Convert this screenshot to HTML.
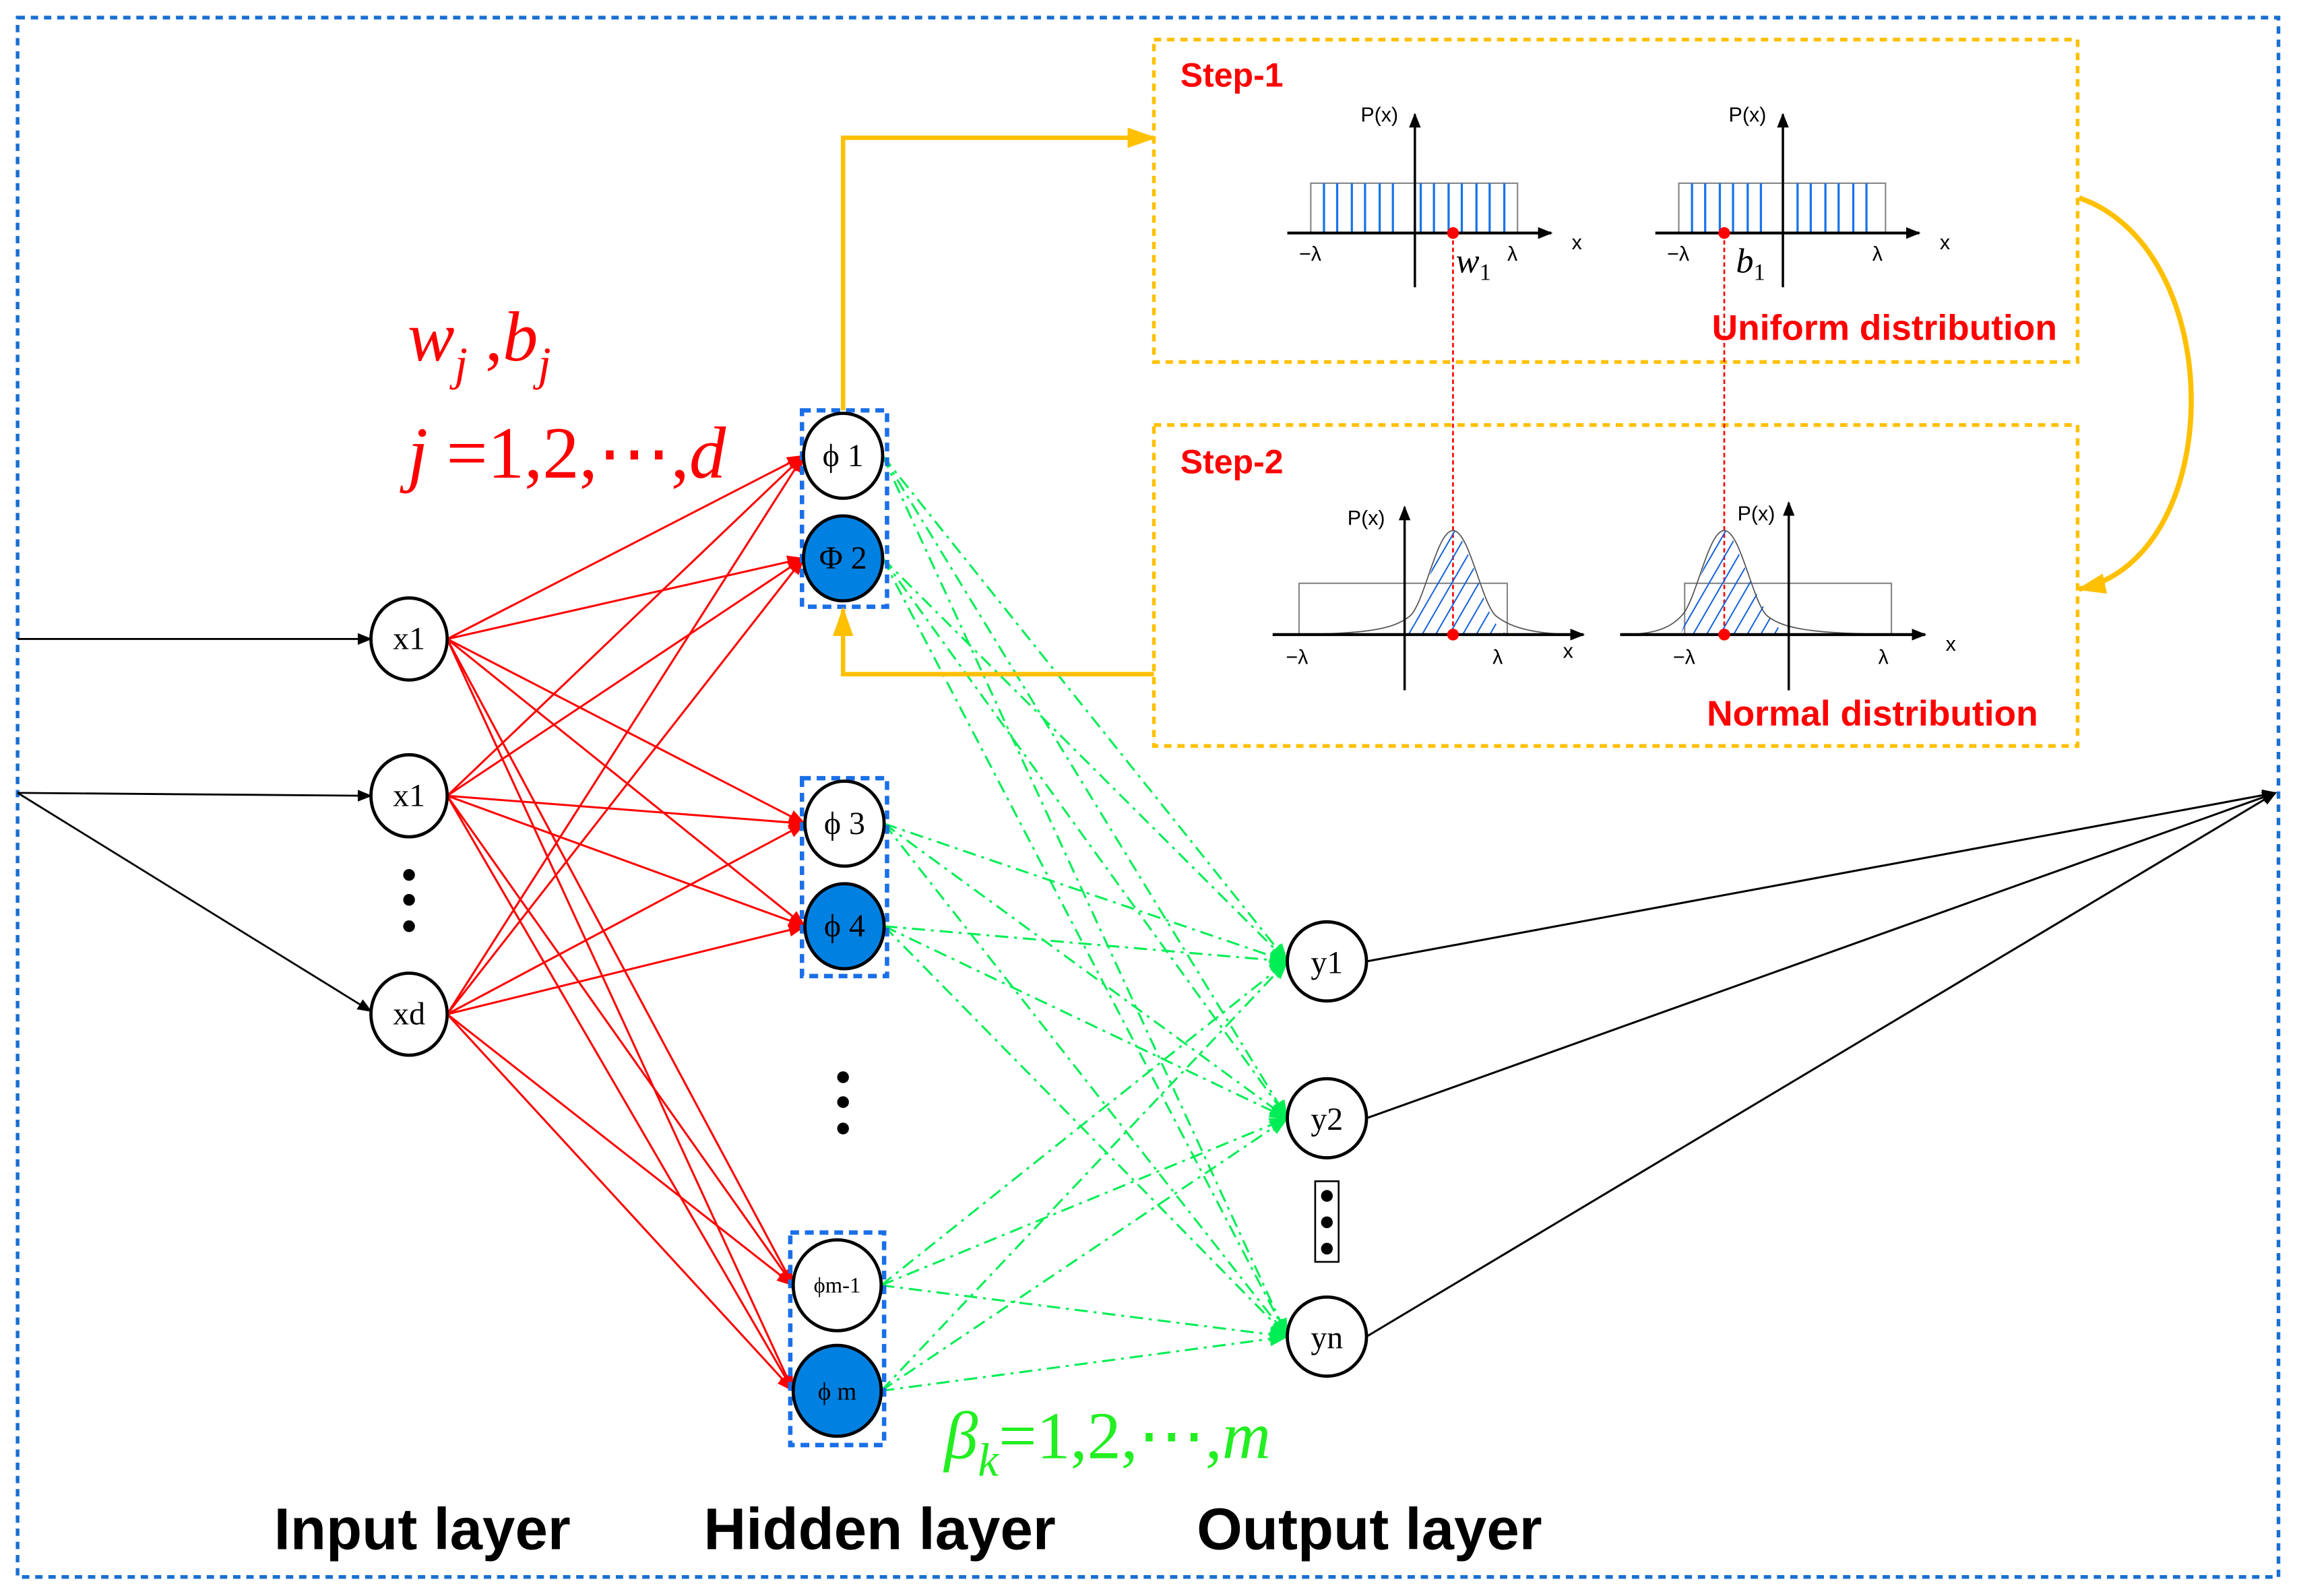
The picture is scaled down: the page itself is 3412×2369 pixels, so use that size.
<!DOCTYPE html>
<html><head><meta charset="utf-8"><style>
html,body{margin:0;padding:0;background:#fff;}
svg{display:block;}
.n{font-family:"Liberation Serif",serif;font-size:22px;text-anchor:middle;}
.s{font-family:"Liberation Sans",sans-serif;}
</style></head><body>
<svg width="3412" height="2369" viewBox="0 0 1568 1089" preserveAspectRatio="none" xmlns="http://www.w3.org/2000/svg">
<defs>
<marker id="ak" markerWidth="10" markerHeight="8" refX="9" refY="4" orient="auto" markerUnits="userSpaceOnUse"><path d="M0,0 L10,4 L0,8 z" fill="#000"/></marker>
<marker id="ar" markerWidth="12" markerHeight="9" refX="11" refY="4.5" orient="auto" markerUnits="userSpaceOnUse"><path d="M0,0 L12,4.5 L0,9 z" fill="#f00"/></marker>
<marker id="ag" markerWidth="13" markerHeight="10" refX="12" refY="5" orient="auto" markerUnits="userSpaceOnUse"><path d="M0,0 L13,5 L0,10 z" fill="#00ee55"/></marker>
<marker id="ay" markerWidth="20" markerHeight="14" refX="18" refY="7" orient="auto" markerUnits="userSpaceOnUse"><path d="M0,0 L20,7 L0,14 z" fill="#ffc000"/></marker>
<marker id="ab" markerWidth="10" markerHeight="8" refX="9" refY="4" orient="auto" markerUnits="userSpaceOnUse"><path d="M0,0 L10,4 L0,8 z" fill="#000"/></marker>
<pattern id="hat" width="8" height="8" patternUnits="userSpaceOnUse" patternTransform="rotate(30)"><line x1="0" y1="0" x2="0" y2="8" stroke="#1060e0" stroke-width="1.8"/></pattern>
</defs>

<rect x="12" y="12" width="1542" height="1064" fill="none" stroke="#1a6fd0" stroke-width="2.5" stroke-dasharray="5,4"/>

<line x1="12" y1="436" x2="253" y2="436" stroke="#000" stroke-width="1.3" marker-end="url(#ak)"/>
<line x1="12" y1="541" x2="253" y2="543" stroke="#000" stroke-width="1.3" marker-end="url(#ak)"/>
<line x1="12" y1="541" x2="253" y2="690" stroke="#000" stroke-width="1.3" marker-end="url(#ak)"/>

<g stroke="#f00" stroke-width="1.4" marker-end="url(#ar)">
<line x1="305" y1="436" x2="548" y2="311"/><line x1="305" y1="436" x2="548" y2="381"/><line x1="305" y1="436" x2="549" y2="562"/><line x1="305" y1="436" x2="549" y2="632"/><line x1="305" y1="436" x2="541" y2="877"/><line x1="305" y1="436" x2="541" y2="949"/>
<line x1="305" y1="543" x2="548" y2="311"/><line x1="305" y1="543" x2="548" y2="381"/><line x1="305" y1="543" x2="549" y2="562"/><line x1="305" y1="543" x2="549" y2="632"/><line x1="305" y1="543" x2="541" y2="877"/><line x1="305" y1="543" x2="541" y2="949"/>
<line x1="305" y1="692" x2="548" y2="311"/><line x1="305" y1="692" x2="548" y2="381"/><line x1="305" y1="692" x2="549" y2="562"/><line x1="305" y1="692" x2="549" y2="632"/><line x1="305" y1="692" x2="541" y2="877"/><line x1="305" y1="692" x2="541" y2="949"/>
</g>

<g stroke="#00ee55" stroke-width="1.4" stroke-dasharray="9,4,2,4" marker-end="url(#ag)">
<line x1="602" y1="311" x2="878" y2="656"/><line x1="602" y1="311" x2="878" y2="763"/><line x1="602" y1="311" x2="878" y2="912"/>
<line x1="602" y1="381" x2="878" y2="656"/><line x1="602" y1="381" x2="878" y2="763"/><line x1="602" y1="381" x2="878" y2="912"/>
<line x1="603" y1="562" x2="878" y2="656"/><line x1="603" y1="562" x2="878" y2="763"/><line x1="603" y1="562" x2="878" y2="912"/>
<line x1="603" y1="632" x2="878" y2="656"/><line x1="603" y1="632" x2="878" y2="763"/><line x1="603" y1="632" x2="878" y2="912"/>
<line x1="601" y1="877" x2="878" y2="656"/><line x1="601" y1="877" x2="878" y2="763"/><line x1="601" y1="877" x2="878" y2="912"/>
<line x1="601" y1="949" x2="878" y2="656"/><line x1="601" y1="949" x2="878" y2="763"/><line x1="601" y1="949" x2="878" y2="912"/>
</g>

<g stroke="#000" stroke-width="1.4">
<line x1="932" y1="656" x2="1552" y2="541" marker-end="url(#ab)"/>
<line x1="932" y1="763" x2="1552" y2="541" marker-end="url(#ab)"/>
<line x1="932" y1="912" x2="1552" y2="541" marker-end="url(#ab)"/>
</g>

<g stroke="#000" stroke-width="2.2" fill="#fff">
<ellipse cx="279" cy="436" rx="26" ry="28"/>
<ellipse cx="279" cy="543" rx="26" ry="28"/>
<ellipse cx="279" cy="692" rx="26" ry="28"/>
</g>
<text class="n" x="279" y="443">x1</text>
<text class="n" x="279" y="550">x1</text>
<text class="n" x="279" y="699">xd</text>
<g fill="#000"><circle cx="279" cy="597" r="4"/><circle cx="279" cy="614" r="4"/><circle cx="279" cy="632" r="4"/></g>

<g fill="none" stroke="#1a6fe8" stroke-width="3" stroke-dasharray="6,4">
<rect x="547" y="280" width="58" height="134"/>
<rect x="547" y="531" width="58" height="135"/>
<rect x="539" y="841" width="64" height="145"/>
</g>
<g stroke="#000" stroke-width="2.2">
<ellipse cx="575" cy="311" rx="27" ry="29" fill="#fff"/>
<ellipse cx="575" cy="381" rx="27" ry="29" fill="#0080e0"/>
<ellipse cx="576" cy="562" rx="27" ry="29" fill="#fff"/>
<ellipse cx="576" cy="632" rx="27" ry="29" fill="#0080e0"/>
<ellipse cx="571" cy="877" rx="30" ry="31" fill="#fff"/>
<ellipse cx="571" cy="949" rx="30" ry="31" fill="#0080e0"/>
</g>
<text class="n" x="575" y="318">ϕ 1</text>
<text class="n" x="575" y="388">Φ 2</text>
<text class="n" x="576" y="569">ϕ 3</text>
<text class="n" x="576" y="639">ϕ 4</text>
<text class="n" x="571" y="882" style="font-size:15px">ϕm-1</text>
<text class="n" x="571" y="955" style="font-size:17px">ϕ m</text>
<g fill="#000"><circle cx="575" cy="735" r="4"/><circle cx="575" cy="752" r="4"/><circle cx="575" cy="770" r="4"/></g>

<g stroke="#000" stroke-width="2.2" fill="#fff">
<ellipse cx="905" cy="656" rx="27" ry="27"/>
<ellipse cx="905" cy="763" rx="27" ry="27"/>
<ellipse cx="905" cy="912" rx="27" ry="27"/>
</g>
<text class="n" x="905" y="664">y1</text>
<text class="n" x="905" y="771">y2</text>
<text class="n" x="905" y="920">yn</text>
<rect x="897" y="806" width="16" height="55" fill="#fff" stroke="#000" stroke-width="1.2"/>
<g fill="#000"><circle cx="905" cy="816" r="4"/><circle cx="905" cy="834" r="4"/><circle cx="905" cy="852" r="4"/></g>

<polyline points="575,280 575,94 787,94" fill="none" stroke="#ffc000" stroke-width="3" marker-end="url(#ay)"/>
<polyline points="787,460 575,460 575,416" fill="none" stroke="#ffc000" stroke-width="3" marker-end="url(#ay)"/>
<path d="M1418,135 C1520,170 1520,380 1418,402" fill="none" stroke="#ffc000" stroke-width="3.5" marker-end="url(#ay)"/>

<g fill="none" stroke="#ffc000" stroke-width="2.5" stroke-dasharray="5,4">
<rect x="787" y="27" width="630" height="220"/>
<rect x="787" y="290" width="630" height="219"/>
</g>
<text class="s" x="805" y="59" fill="#f00" font-weight="bold" font-size="23">Step-1</text>
<text class="s" x="805" y="323" fill="#f00" font-weight="bold" font-size="23">Step-2</text>
<text class="s" x="1403" y="232" fill="#f00" font-weight="bold" font-size="24.5" text-anchor="end">Uniform distribution</text>
<text class="s" x="1390" y="495" fill="#f00" font-weight="bold" font-size="24.5" text-anchor="end">Normal distribution</text>

<rect x="894" y="125" width="141" height="34" fill="none" stroke="#888" stroke-width="1"/>
<g stroke="#1874e8" stroke-width="1.5">
<line x1="903" y1="125" x2="903" y2="159"/><line x1="912" y1="125" x2="912" y2="159"/><line x1="922" y1="125" x2="922" y2="159"/><line x1="931" y1="125" x2="931" y2="159"/><line x1="941" y1="125" x2="941" y2="159"/><line x1="950" y1="125" x2="950" y2="159"/><line x1="969" y1="125" x2="969" y2="159"/><line x1="978" y1="125" x2="978" y2="159"/><line x1="988" y1="125" x2="988" y2="159"/><line x1="997" y1="125" x2="997" y2="159"/><line x1="1007" y1="125" x2="1007" y2="159"/><line x1="1016" y1="125" x2="1016" y2="159"/><line x1="1026" y1="125" x2="1026" y2="159"/>
</g>
<line x1="878" y1="159" x2="1058" y2="159" stroke="#000" stroke-width="2" marker-end="url(#ak)"/>
<line x1="965" y1="196" x2="965" y2="78" stroke="#000" stroke-width="1.6" marker-end="url(#ak)"/>
<rect x="1145" y="125" width="141" height="34" fill="none" stroke="#888" stroke-width="1"/>
<g stroke="#1874e8" stroke-width="1.5">
<line x1="1154" y1="125" x2="1154" y2="159"/><line x1="1163" y1="125" x2="1163" y2="159"/><line x1="1173" y1="125" x2="1173" y2="159"/><line x1="1182" y1="125" x2="1182" y2="159"/><line x1="1192" y1="125" x2="1192" y2="159"/><line x1="1201" y1="125" x2="1201" y2="159"/><line x1="1226" y1="125" x2="1226" y2="159"/><line x1="1235" y1="125" x2="1235" y2="159"/><line x1="1245" y1="125" x2="1245" y2="159"/><line x1="1254" y1="125" x2="1254" y2="159"/><line x1="1264" y1="125" x2="1264" y2="159"/><line x1="1273" y1="125" x2="1273" y2="159"/>
</g>
<line x1="1129" y1="159" x2="1309" y2="159" stroke="#000" stroke-width="2" marker-end="url(#ak)"/>
<line x1="1216" y1="196" x2="1216" y2="78" stroke="#000" stroke-width="1.6" marker-end="url(#ak)"/>
<g class="s" font-size="14" fill="#000">
<text x="928" y="83">P(x)</text><text x="1179" y="83">P(x)</text>
<text x="886" y="178">−λ</text><text x="1028" y="178">λ</text><text x="1072" y="170">x</text>
<text x="1137" y="178">−λ</text><text x="1277" y="178">λ</text><text x="1323" y="170">x</text>
</g>
<text x="993" y="186" font-family="Liberation Serif" font-style="italic" font-size="24">w<tspan font-style="normal" font-size="16" dy="5">1</tspan></text>
<text x="1184" y="186" font-family="Liberation Serif" font-style="italic" font-size="24">b<tspan font-style="normal" font-size="16" dy="5">1</tspan></text>

<line x1="991" y1="159" x2="991" y2="433" stroke="#f00" stroke-width="1.2" stroke-dasharray="3,2"/>
<line x1="1176" y1="159" x2="1176" y2="433" stroke="#f00" stroke-width="1.2" stroke-dasharray="3,2"/>

<rect x="886" y="398" width="142" height="35" fill="none" stroke="#888" stroke-width="1"/>
<path d="M958,433 C970,425 972,398 978,385 C984,370 987,362 991,362 C995,362 998,370 1004,385 C1010,398 1014,425 1028,433 Z" fill="url(#hat)"/>
<path d="M868,433 C930,433 950,430 962,420 C972,410 980,362 991,362 C1002,362 1010,410 1020,420 C1032,430 1052,433 1080,433" fill="none" stroke="#555" stroke-width="0.8"/>
<line x1="868" y1="433" x2="1080" y2="433" stroke="#000" stroke-width="2" marker-end="url(#ak)"/>
<line x1="958" y1="471" x2="958" y2="346" stroke="#000" stroke-width="1.6" marker-end="url(#ak)"/>
<rect x="1149" y="398" width="141" height="35" fill="none" stroke="#888" stroke-width="1"/>
<path d="M1146,433 C1150,425 1157,398 1163,385 C1169,370 1172,362 1176,362 C1180,362 1183,370 1189,385 C1195,398 1205,425 1219,433 Z" fill="url(#hat)"/>
<path d="M1105,433 C1125,433 1138,430 1147,420 C1157,410 1165,362 1176,362 C1187,362 1195,410 1205,420 C1217,430 1240,433 1313,433" fill="none" stroke="#555" stroke-width="0.8"/>
<line x1="1105" y1="433" x2="1313" y2="433" stroke="#000" stroke-width="2" marker-end="url(#ak)"/>
<line x1="1220" y1="471" x2="1220" y2="343" stroke="#000" stroke-width="1.6" marker-end="url(#ak)"/>
<g class="s" font-size="14" fill="#000">
<text x="919" y="358">P(x)</text><text x="1185" y="355">P(x)</text>
<text x="877" y="453">−λ</text><text x="1018" y="453">λ</text><text x="1066" y="449">x</text>
<text x="1141" y="453">−λ</text><text x="1281" y="453">λ</text><text x="1327" y="444">x</text>
</g>
<circle cx="991" cy="159" r="4" fill="#f00"/><circle cx="1176" cy="159" r="4" fill="#f00"/>
<circle cx="991" cy="433" r="4" fill="#f00"/><circle cx="1176" cy="433" r="4" fill="#f00"/>

<text x="278" y="246" fill="#f00" font-family="Liberation Serif" font-style="italic" font-size="48">w<tspan font-size="32" dy="13">j</tspan><tspan font-style="normal" dy="-13"> ,</tspan>b<tspan font-size="32" dy="13">j</tspan></text>
<text x="278" y="326" fill="#f00" font-family="Liberation Serif" font-size="50"><tspan font-style="italic">j</tspan> =1,2,⋯,<tspan font-style="italic">d</tspan></text>
<text x="644" y="995" fill="#22ee22" font-family="Liberation Serif" font-size="46"><tspan font-style="italic">β</tspan><tspan font-style="italic" font-size="32" dy="12">k</tspan><tspan dy="-12">=1,2,⋯,</tspan><tspan font-style="italic">m</tspan></text>

<g class="s" font-weight="bold" font-size="40" text-anchor="middle" fill="#000">
<text x="288" y="1057">Input layer</text>
<text x="600" y="1057">Hidden layer</text>
<text x="934" y="1057">Output layer</text>
</g>
</svg>
</body></html>
